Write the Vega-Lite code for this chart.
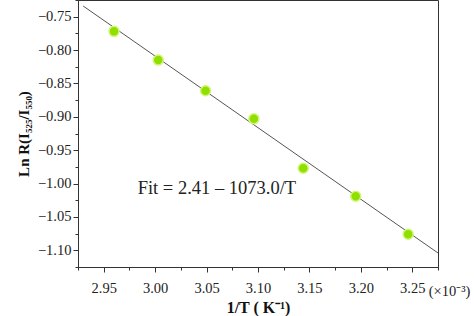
{
  "$schema": "https://vega.github.io/schema/vega-lite/v6.json",
  "width": 360,
  "height": 267,
  "autosize": "none",
  "padding": {"left": 78, "top": 0, "right": 36, "bottom": 49},
  "background": "white",
  "config": {
    "view": {"stroke": "#333", "strokeWidth": 1},
    "font": "Liberation Serif",
    "axis": {
      "domainColor": "#333",
      "tickColor": "#333",
      "tickSize": 5,
      "labelFont": "Liberation Serif",
      "labelFontSize": 14.5,
      "labelColor": "#222",
      "titleFont": "Liberation Serif",
      "titleFontSize": 16,
      "titleFontWeight": "bold",
      "titleColor": "#111",
      "grid": false
    }
  },
  "resolve": {"axis": {"x": "independent", "y": "independent"}},
  "datasets": {
    "pts": [
      {"x": 2.960, "y": -0.772},
      {"x": 3.003, "y": -0.815},
      {"x": 3.049, "y": -0.861},
      {"x": 3.096, "y": -0.903},
      {"x": 3.144, "y": -0.977},
      {"x": 3.195, "y": -1.019},
      {"x": 3.246, "y": -1.076}
    ],
    "fit": [
      {"x": 2.930, "y": -0.7340},
      {"x": 3.275, "y": -1.1040}
    ]
  },
  "layer": [
    {
      "data": {"name": "fit"},
      "mark": {"type": "line", "color": "#555", "strokeWidth": 1},
      "encoding": {
        "x": {
          "field": "x", "type": "quantitative",
          "scale": {"domain": [2.925, 3.275], "nice": false, "zero": false},
          "axis": {
            "orient": "bottom",
            "title": "1/T ( K⁻¹)",
            "titlePadding": 5,
            "values": [2.95, 3.0, 3.05, 3.1, 3.15, 3.2, 3.25],
            "format": ".2f",
            "labelPadding": 9
          }
        },
        "y": {
          "field": "y", "type": "quantitative",
          "scale": {"domain": [-1.125, -0.725], "nice": false, "zero": false},
          "axis": {
            "orient": "left",
            "title": "Ln R(I₅₂₅/I₅₅₀)",
            "titleFontSize": 15,
            "titlePadding": 6,
            "values": [-1.1, -1.05, -1.0, -0.95, -0.9, -0.85, -0.8, -0.75],
            "format": ".2f",
            "labelPadding": 2
          }
        }
      }
    },
    {
      "data": {"name": "pts"},
      "mark": {"type": "point", "filled": true, "fill": "#8fe000", "stroke": "#d4f57a", "strokeWidth": 1.5, "opacity": 1, "size": 100},
      "encoding": {
        "x": {
          "field": "x", "type": "quantitative",
          "axis": {
            "orient": "bottom",
            "title": null,
            "labels": false,
            "domain": false,
            "tickSize": 3,
            "values": [2.925, 2.975, 3.025, 3.075, 3.125, 3.175, 3.225, 3.275]
          }
        },
        "y": {
          "field": "y", "type": "quantitative",
          "axis": {
            "orient": "left",
            "title": null,
            "labels": false,
            "domain": false,
            "tickSize": 3,
            "values": [-1.125, -1.075, -1.025, -0.975, -0.925, -0.875, -0.825, -0.775, -0.725]
          }
        }
      }
    },
    {
      "data": {"values": [{"x": 2.983, "y": -1.007, "t": "Fit = 2.41 – 1073.0/T"}]},
      "mark": {"type": "text", "align": "left", "baseline": "middle", "fontSize": 18.5, "font": "Liberation Serif", "color": "#222"},
      "encoding": {
        "x": {"field": "x", "type": "quantitative", "axis": null},
        "y": {"field": "y", "type": "quantitative", "axis": null},
        "text": {"field": "t"}
      }
    },
    {
      "data": {"values": [{"x": 3.266, "y": -1.125, "t": "(×10⁻³)"}]},
      "mark": {"type": "text", "align": "left", "baseline": "middle", "dy": 25, "fontSize": 14.5, "font": "Liberation Serif", "color": "#222", "clip": false},
      "encoding": {
        "x": {"field": "x", "type": "quantitative", "axis": null},
        "y": {"field": "y", "type": "quantitative", "axis": null},
        "text": {"field": "t"}
      }
    }
  ]
}
